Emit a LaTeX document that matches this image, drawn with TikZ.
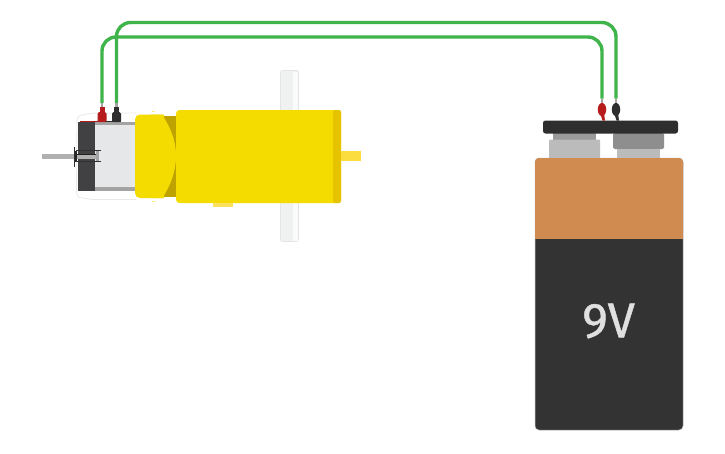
\documentclass[tikz,border=0pt]{standalone}
\usepackage{fontspec}
\usetikzlibrary{shapes.geometric}
\newfontfamily\labelfont[FakeBold=0.9]{Fira Sans}
\definecolor{wiregreen}{HTML}{3FB44A}
\definecolor{motoryellow}{HTML}{F4DC00}
\definecolor{yellowdark}{HTML}{BDA200}
\definecolor{yellowstrip}{HTML}{E6C300}
\definecolor{yellowlight}{HTML}{FBDD3F}
\definecolor{plate}{HTML}{414042}
\definecolor{can}{HTML}{E6E7E8}
\definecolor{canedge}{HTML}{A3A3A3}
\definecolor{shaftcol}{HTML}{B0B0B0}
\definecolor{wheel}{HTML}{F0F1F1}
\definecolor{wheeledge}{HTML}{E4E5E5}
\definecolor{casing}{HTML}{E9E9E9}
\definecolor{pinred}{HTML}{B71C1C}
\definecolor{pinblack}{HTML}{2E2E2E}
\definecolor{battdark}{HTML}{333333}
\definecolor{battorange}{HTML}{D08C50}
\definecolor{battedge}{HTML}{BEBEBE}
\definecolor{termlight}{HTML}{BBBBBB}
\definecolor{termmid}{HTML}{8E8E8E}
\definecolor{termdim}{HTML}{9A9A9A}
\definecolor{ninev}{HTML}{E0E0E0}
\tikzset{
  x=1pt,y=-1pt,
  wirecore/.style={draw=wiregreen,line width=3.4pt,rounded corners=14pt},
  wiretip/.style={draw=canedge,line width=2.6pt},
  pinshape/.style={draw=none,inner sep=0pt},
}
\begin{document}
\begin{tikzpicture}
\useasboundingbox (0,0) rectangle (725,453);
\fill[white] (0,0) rectangle (725,453);

% wheel axle behind gearbox
\node[name=wheelnode,draw=wheeledge,line width=0.8pt,fill=wheel,rounded corners=2pt,minimum width=18pt,minimum height=171pt,inner sep=0pt] at (289.5,156) {};
\fill[white!75!wheel] (292.5,71.5) rectangle (298,240.5);

% casing outline
\draw[casing,line width=0.8pt,rounded corners=4pt] (136,113) -- (92,113) -- (77,116) -- (76.5,197) -- (92,199.5) -- (136,199.5);

% motor body
\fill[can] (95,122) rectangle (137,190.5);
\fill[canedge] (95,122) rectangle (137,125);
\fill[canedge] (95,187) rectangle (137,190.5);
\fill[plate] (78,122) rectangle (95,191);
\fill[pinred] (80,120.5) rectangle (98,122);
\fill[pinblack] (98,120.5) rectangle (121,122);

% shaft and clip
\fill[shaftcol] (42,153.5) rectangle (76,159);
\fill[plate!60!black] (75,150.5) rectangle (77,161.5);
\fill[shaftcol] (77,155) rectangle (96,158.5);
\draw[pinblack,line width=1.2pt] (74.5,146.5) -- (74.5,167);
\draw[plate!75!black,line width=1pt] (76,150.8) -- (101,150.8);
\draw[plate!75!black,line width=1pt] (76,161.2) -- (101,161.2);
\draw[plate!50!black,line width=0.8pt] (77,154.6) -- (96,154.6);
\fill[canedge] (96,151) rectangle (99,161);

% small ticks
\fill[yellowlight!70!white] (151.5,110.5) rectangle (155,112);
\fill[yellowlight!70!white] (151.5,200.5) rectangle (155,202);

% gearbox
\fill[yellowdark] (160,116) rectangle (178,197);
\fill[motoryellow,rounded corners=5pt] (164,114.5) -- (135,114.5) -- (135,198) -- (164,198);
\fill[motoryellow] (163,114.5) -- (163,116) .. controls (170,127) and (176,140) .. (176,156) .. controls (176,172) and (170,186) .. (163,197) -- (163,198) -- (150,198) -- (150,114.5) -- cycle;
\node[name=gearbox,fill=motoryellow,rounded corners=3.5pt,minimum width=165pt,minimum height=93pt,inner sep=0pt] at (258.5,156.5) {};
\fill[yellowstrip,rounded corners=2pt] (333,110) rectangle (341,203);
\fill[yellowlight] (341,151) rectangle (361,161);
\fill[yellowlight!85!white] (213,203) rectangle (233,207);

% battery
\fill[termdim] (553,133) rectangle (596,140);
\fill[termlight,rounded corners=1pt] (549,139.5) rectangle (600,160);
\fill[termmid,rounded corners=1.5pt] (613,133) rectangle (664,149);
\fill[termlight] (617,149) rectangle (660,160);
\node[name=battery,fill=battdark,draw=battedge,line width=0.5pt,rounded corners=4pt,minimum width=148pt,minimum height=272pt,inner sep=0pt] at (609,294) {};
\fill[battorange,rounded corners=4pt] (535,170) -- (535,158) -- (683,158) -- (683,170) -- cycle;
\fill[battorange] (535,165) rectangle (683,239);
\node[name=cap,fill=pinblack,rounded corners=2.5pt,minimum width=135pt,minimum height=13pt,inner sep=0pt] at (610.5,127) {};
\node[name=volt,text=ninev,inner sep=0pt,font=\labelfont\fontsize{49}{49}\selectfont] at (608.5,321) {9V};

% motor pins
\node[name=mred,pinshape,fill=pinred,minimum width=9pt,minimum height=10pt,rounded corners=1.5pt] at (102,117) {};
\node[name=mblack,pinshape,fill=pinblack,minimum width=9pt,minimum height=10pt,rounded corners=1.5pt] at (116.5,117) {};
\node[name=mredneck,pinshape,fill=pinred,minimum width=5pt,minimum height=6pt] at (102,110) {};
\node[name=mblackneck,pinshape,fill=pinblack,minimum width=5pt,minimum height=6pt] at (116.5,110) {};

% battery clips
\node[name=bred,pinshape,fill=pinred,ellipse,minimum width=8.5pt,minimum height=13pt] at (602,109.5) {};
\node[name=bblack,pinshape,fill=pinblack,ellipse,minimum width=8.5pt,minimum height=13pt] at (616,109.5) {};
\fill[pinred] (600,113) -- (604,113) -- (605,120.5) -- (602.5,120.5) -- cycle;
\fill[pinblack] (614,113) -- (618,113) -- (619,120.5) -- (616.5,120.5) -- cycle;

% wire anchor points
\coordinate (mredtop) at (102,103);
\coordinate (mblacktop) at (116.5,103);
\coordinate (bredtop) at (602,98.5);
\coordinate (bblacktop) at (616,98.5);
\coordinate (rowinner) at (0,37);
\coordinate (rowouter) at (0,22.5);

% wires
\draw[wirecore] (mredtop) -- (mredtop |- rowinner) -- (bredtop |- rowinner) -- (bredtop);
\draw[wirecore] (mblacktop) -- (mblacktop |- rowouter) -- (bblacktop |- rowouter) -- (bblacktop);
\draw[wiretip] (mredtop) -- (mredneck.north);
\draw[wiretip] (mblacktop) -- (mblackneck.north);
\draw[wiretip] (bredtop) -- (bred.north);
\draw[wiretip] (bblacktop) -- (bblack.north);
\end{tikzpicture}
\end{document}
